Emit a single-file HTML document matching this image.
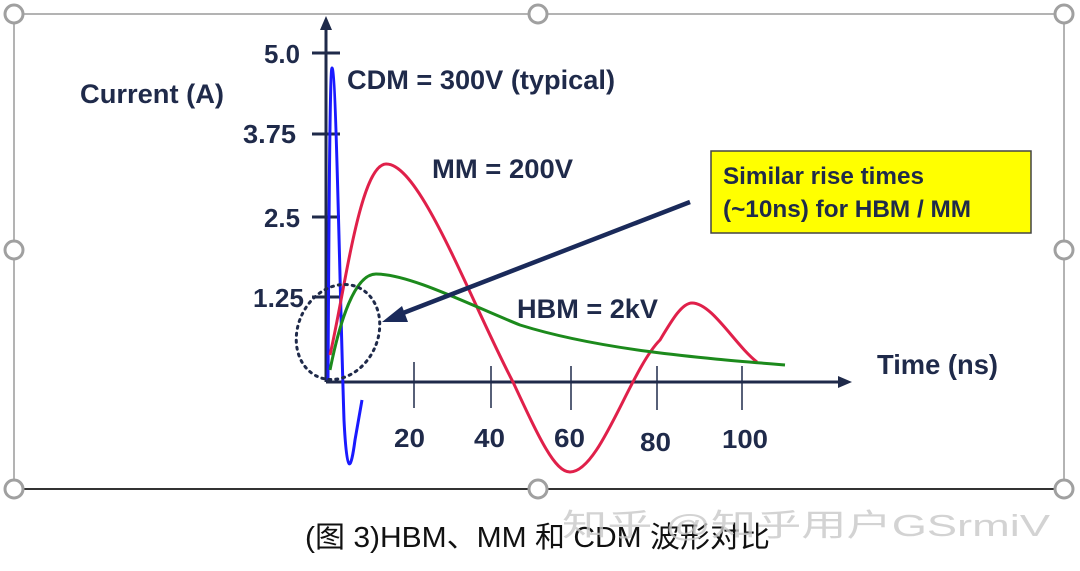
<!DOCTYPE html>
<html><head><meta charset="utf-8"><style>
html,body{margin:0;padding:0;background:#fff;}
svg{display:block;}
text{font-family:"Liberation Sans","Noto Sans CJK SC",sans-serif;}
</style></head><body>
<svg width="1080" height="571" viewBox="0 0 1080 571" xmlns="http://www.w3.org/2000/svg">
<rect x="0" y="0" width="1080" height="571" fill="#fff"/>
<rect x="14" y="14" width="1050" height="475" fill="none" stroke="#9a9a9a" stroke-width="1.5"/>
<line x1="14" y1="489" x2="1064" y2="489" stroke="#333" stroke-width="2"/>
<g fill="#fff" stroke="#a0a0a0" stroke-width="3">
<circle cx="14" cy="14" r="9"/><circle cx="538" cy="14" r="9"/><circle cx="1064" cy="14" r="9"/>
<circle cx="14" cy="250" r="9"/><circle cx="1064" cy="250" r="9"/>
<circle cx="14" cy="489" r="9"/><circle cx="538" cy="489" r="9"/><circle cx="1064" cy="489" r="9"/>
</g>
<g stroke="#1f2a4a" stroke-width="3" fill="#1f2a4a">
<line x1="326" y1="382" x2="326" y2="26"/>
<polygon points="320,30 332,30 326,16" stroke="none"/>
<line x1="326" y1="382" x2="842" y2="382"/>
<polygon points="838,376 838,388 852,382" stroke="none"/>
<line x1="312" y1="53" x2="340" y2="53"/>
<line x1="312" y1="134" x2="340" y2="134"/>
<line x1="312" y1="217" x2="340" y2="217"/>
<line x1="312" y1="297" x2="340" y2="297"/>
</g>
<g stroke="#1f2a4a" stroke-width="1.5">
<line x1="414" y1="362" x2="414" y2="408"/>
<line x1="491" y1="366" x2="491" y2="408"/>
<line x1="571" y1="366" x2="571" y2="410"/>
<line x1="657" y1="366" x2="657" y2="410"/>
<line x1="742" y1="366" x2="742" y2="410"/>
</g>
<g font-weight="bold" fill="#1f2a4a" font-size="26">
<text x="264" y="63" textLength="36" lengthAdjust="spacingAndGlyphs">5.0</text>
<text x="243" y="143" textLength="53" lengthAdjust="spacingAndGlyphs">3.75</text>
<text x="264" y="227" textLength="36" lengthAdjust="spacingAndGlyphs">2.5</text>
<text x="253" y="307" textLength="51" lengthAdjust="spacingAndGlyphs">1.25</text>
<text x="394" y="447" textLength="31" lengthAdjust="spacingAndGlyphs">20</text>
<text x="474" y="447" textLength="31" lengthAdjust="spacingAndGlyphs">40</text>
<text x="554" y="447" textLength="31" lengthAdjust="spacingAndGlyphs">60</text>
<text x="640" y="451" textLength="31" lengthAdjust="spacingAndGlyphs">80</text>
<text x="722" y="448" textLength="46" lengthAdjust="spacingAndGlyphs">100</text>
<text x="80" y="103" font-size="27" textLength="144" lengthAdjust="spacingAndGlyphs">Current (A)</text>
<text x="347" y="89" font-size="27" textLength="268" lengthAdjust="spacingAndGlyphs">CDM = 300V (typical)</text>
<text x="432" y="178" font-size="27" textLength="141" lengthAdjust="spacingAndGlyphs">MM = 200V</text>
<text x="517" y="318" font-size="27" textLength="141" lengthAdjust="spacingAndGlyphs">HBM = 2kV</text>
<text x="877" y="374" font-size="28" textLength="121" lengthAdjust="spacingAndGlyphs">Time (ns)</text>
</g>
<path d="M328,380 C329,200 330,68 332,68 C336,68 340,300 344,420 C347,480 351,470 355,440 L362,400" fill="none" stroke="#1a1aff" stroke-width="3"/>
<path d="M330,355 C345,290 360,165 386,164 C420,163 470,300 513,382 C540,440 555,472 570,472 C600,472 630,370 660,340 C672,320 682,303 692,303 C712,303 735,345 757,362" fill="none" stroke="#e0204a" stroke-width="3"/>
<path d="M330,370 C340,320 355,274 376,274 C410,274 470,305 520,325 C600,350 700,358 785,365" fill="none" stroke="#1c8a1c" stroke-width="3"/>
<ellipse cx="338" cy="332" rx="40" ry="49" transform="rotate(25 338 332)" fill="none" stroke="#1f2a4a" stroke-width="3" stroke-dasharray="2,5" stroke-linecap="round"/>
<line x1="690" y1="202" x2="398" y2="315" stroke="#1a2a5a" stroke-width="4.5"/>
<polygon points="382,322 402,306 408,322" fill="#1a2a5a"/>
<rect x="711" y="151" width="320" height="82" fill="#ffff00" stroke="#444" stroke-width="1.5"/>
<g font-weight="bold" fill="#1f2a4a" font-size="24">
<text x="723" y="184" textLength="201" lengthAdjust="spacingAndGlyphs">Similar rise times</text>
<text x="723" y="217" textLength="248" lengthAdjust="spacingAndGlyphs">(~10ns) for HBM / MM</text>
</g>
<text x="305" y="547" font-size="29" fill="#111" textLength="465" lengthAdjust="spacingAndGlyphs">(图 3)HBM、MM 和 CDM 波形对比</text>
<text x="562" y="536" font-size="31" fill="#c8c8c8" fill-opacity="0.8" textLength="488" lengthAdjust="spacingAndGlyphs">知乎 @知乎用户GSrmiV</text>
</svg>
</body></html>
